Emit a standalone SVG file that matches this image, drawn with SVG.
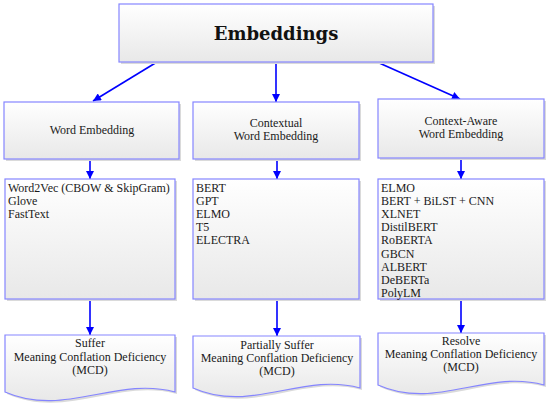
<svg xmlns="http://www.w3.org/2000/svg" width="550" height="408" viewBox="0 0 550 408">
<defs>
<linearGradient id="g" x1="0" y1="0" x2="0" y2="1">
<stop offset="0" stop-color="#ffffff"/>
<stop offset="1" stop-color="#e8e8e8"/>
</linearGradient>
<marker id="ah" viewBox="0 0 10 10" refX="10" refY="5" markerWidth="9" markerHeight="8" markerUnits="userSpaceOnUse" orient="auto">
<path d="M0,0 L10,5 L0,10 Z" fill="#0000ff"/>
</marker>
<style>
.box{fill:url(#g);stroke:#8585ff;stroke-width:1.2}
.sh{fill:#dadada;stroke:none}
.t{font-family:"Liberation Serif","Times New Roman",serif;font-size:12px;fill:#1a1a1a}
.c{text-anchor:middle}
.title{font-family:"DejaVu Serif",serif;font-weight:bold;font-size:18px;fill:#111;text-anchor:middle}
.ar{stroke:#0000ff;stroke-width:1.6;fill:none;marker-end:url(#ah)}
</style>
</defs>
<rect width="550" height="408" fill="#ffffff"/>
<g id="connectors">
<line class="ar" x1="157" y1="62" x2="93" y2="101"/>
<line class="ar" x1="276" y1="62" x2="276" y2="102"/>
<line class="ar" x1="377" y1="62" x2="460" y2="99"/>
<line class="ar" x1="90" y1="159" x2="90" y2="179"/>
<line class="ar" x1="277" y1="159" x2="277" y2="179"/>
<line class="ar" x1="461" y1="158" x2="461" y2="179"/>
<line class="ar" x1="90" y1="299" x2="90" y2="335"/>
<line class="ar" x1="277" y1="299" x2="277" y2="336"/>
<line class="ar" x1="461" y1="299" x2="461" y2="333"/>
</g>
<g id="embeddings">
<rect class="sh" x="121" y="6" width="314" height="58"/>
<rect class="box" x="119" y="4" width="314" height="58"/>
<text class="title" x="276" y="40">Embeddings</text>
</g>
<g id="word-embedding">
<rect class="sh" x="6" y="104" width="175" height="57"/>
<rect class="box" x="4" y="102" width="175" height="57"/>
<text class="t c" x="92" y="134">Word Embedding</text>
</g>
<g id="contextual">
<rect class="sh" x="195" y="104" width="166" height="57"/>
<rect class="box" x="193" y="102" width="166" height="57"/>
<text class="t c" x="276" y="127">Contextual</text>
<text class="t c" x="276" y="140">Word Embedding</text>
</g>
<g id="context-aware">
<rect class="sh" x="380" y="101" width="166" height="59"/>
<rect class="box" x="378" y="99" width="166" height="59"/>
<text class="t c" x="461" y="125">Context-Aware</text>
<text class="t c" x="461" y="138">Word Embedding</text>
</g>
<g id="word-list">
<rect class="sh" x="7" y="181" width="170" height="120"/>
<rect class="box" x="5" y="179" width="170" height="120"/>
<text class="t" x="8" y="191.5">Word2Vec (CBOW &amp; SkipGram)</text>
<text class="t" x="8" y="204.7">Glove</text>
<text class="t" x="8" y="217.9">FastText</text>
</g>
<g id="contextual-list">
<rect class="sh" x="195" y="181" width="166" height="120"/>
<rect class="box" x="193" y="179" width="166" height="120"/>
<text class="t" x="196" y="191.5">BERT</text>
<text class="t" x="196" y="204.7">GPT</text>
<text class="t" x="196" y="217.9">ELMO</text>
<text class="t" x="196" y="231.1">T5</text>
<text class="t" x="196" y="244.3">ELECTRA</text>
</g>
<g id="context-aware-list">
<rect class="sh" x="380" y="181" width="166" height="120"/>
<rect class="box" x="378" y="179" width="166" height="120"/>
<text class="t" x="381" y="191.5">ELMO</text>
<text class="t" x="381" y="204.7">BERT + BiLST + CNN</text>
<text class="t" x="381" y="217.9">XLNET</text>
<text class="t" x="381" y="231.1">DistilBERT</text>
<text class="t" x="381" y="244.3">RoBERTA</text>
<text class="t" x="381" y="257.5">GBCN</text>
<text class="t" x="381" y="270.7">ALBERT</text>
<text class="t" x="381" y="283.9">DeBERTa</text>
<text class="t" x="381" y="297.1">PolyLM</text>
</g>
<g id="suffer">
<path class="sh" d="M7,337 H177 V394 C117.5,378 66.5,420 7,394 Z"/>
<path class="box" d="M5,335 H175 V392 C115.5,376 64.5,418 5,392 Z"/>
<text class="t c" x="90" y="347">Suffer</text>
<text class="t c" x="90" y="360.5">Meaning Conflation Deficiency</text>
<text class="t c" x="90" y="374">(MCD)</text>
</g>
<g id="partially-suffer">
<path class="sh" d="M195,338 H362 V390 C303.5,374 253.5,416 195,390 Z"/>
<path class="box" d="M193,336 H360 V388 C301.5,372 251.5,414 193,388 Z"/>
<text class="t c" x="277" y="349">Partially Suffer</text>
<text class="t c" x="277" y="362">Meaning Conflation Deficiency</text>
<text class="t c" x="277" y="375">(MCD)</text>
</g>
<g id="resolve">
<path class="sh" d="M380,335 H546 V387 C487.9,371 438,413 380,387 Z"/>
<path class="box" d="M378,333 H544 V385 C485.9,369 436,411 378,385 Z"/>
<text class="t c" x="461" y="345">Resolve</text>
<text class="t c" x="461" y="358">Meaning Conflation Deficiency</text>
<text class="t c" x="461" y="371">(MCD)</text>
</g>
</svg>
